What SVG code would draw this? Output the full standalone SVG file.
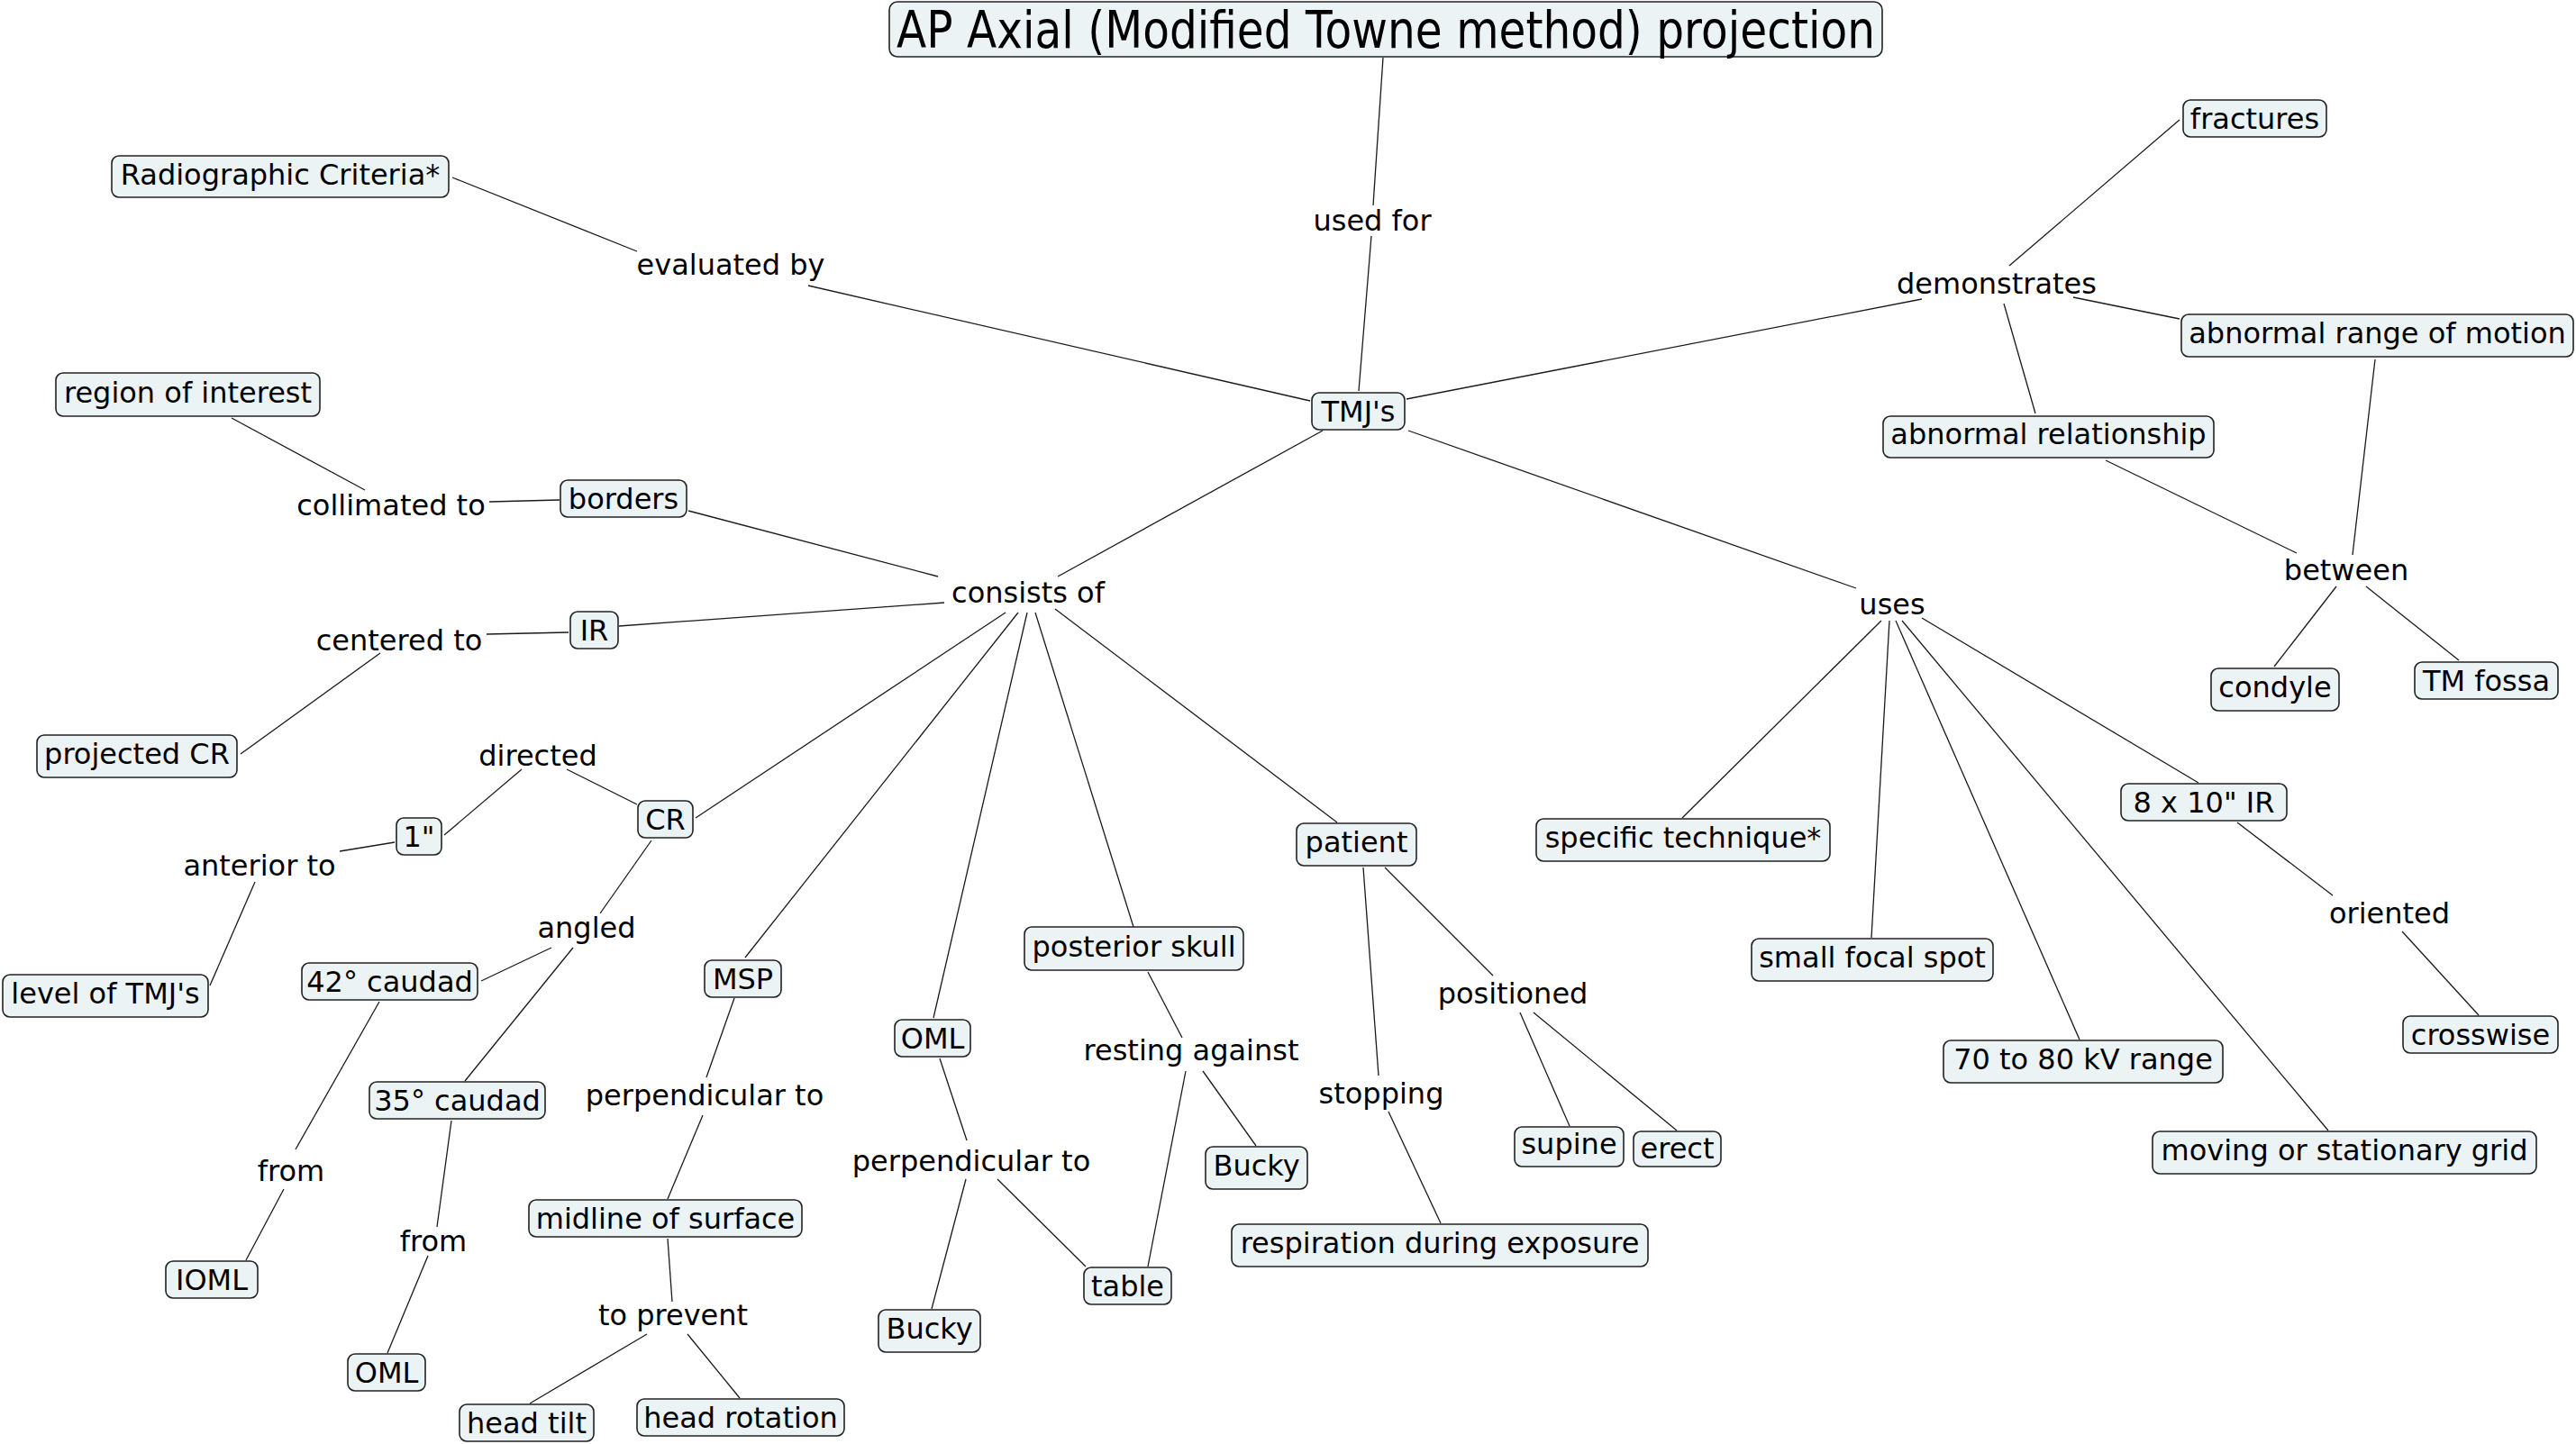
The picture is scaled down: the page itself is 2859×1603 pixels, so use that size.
<svg xmlns="http://www.w3.org/2000/svg" width="2859" height="1603" viewBox="0 0 2859 1603">
<style>
.n rect{fill:#ecf3f5;stroke:#222;stroke-width:1.6}
text{font-family:"DejaVu Sans","Liberation Sans",sans-serif;font-size:32px;fill:#000;text-anchor:middle}
.t text{font-size:57px}
#connectors line{stroke:#1a1a1a;stroke-width:1.3}
</style>
<rect width="2859" height="1603" fill="#fff"/>
<g id="connectors">
<line x1="1535" y1="64" x2="1524" y2="228"/>
<line x1="1522" y1="262" x2="1508" y2="434"/>
<line x1="1454" y1="445" x2="897" y2="317"/>
<line x1="707" y1="279" x2="502" y2="197"/>
<line x1="1561" y1="443" x2="2133" y2="332"/>
<line x1="2230" y1="295" x2="2419" y2="133"/>
<line x1="2301" y1="330" x2="2419" y2="354"/>
<line x1="2224" y1="337" x2="2259" y2="459"/>
<line x1="2636" y1="399" x2="2611" y2="616"/>
<line x1="2337" y1="511" x2="2549" y2="614"/>
<line x1="2593" y1="651" x2="2524" y2="740"/>
<line x1="2626" y1="651" x2="2729" y2="733"/>
<line x1="1563" y1="478" x2="2060" y2="653"/>
<line x1="2088" y1="689" x2="1867" y2="908"/>
<line x1="2097" y1="689" x2="2077" y2="1041"/>
<line x1="2104" y1="689" x2="2308" y2="1154"/>
<line x1="2111" y1="689" x2="2584" y2="1255"/>
<line x1="2133" y1="686" x2="2440" y2="869"/>
<line x1="2483" y1="913" x2="2589" y2="994"/>
<line x1="2666" y1="1034" x2="2751" y2="1127"/>
<line x1="1468" y1="478" x2="1174" y2="640"/>
<line x1="1041" y1="640" x2="764" y2="567"/>
<line x1="1048" y1="669" x2="687" y2="695"/>
<line x1="1116" y1="680" x2="772" y2="908"/>
<line x1="1130" y1="680" x2="827" y2="1063"/>
<line x1="1140" y1="680" x2="1036" y2="1130"/>
<line x1="1149" y1="680" x2="1258" y2="1029"/>
<line x1="1171" y1="676" x2="1484" y2="913"/>
<line x1="621" y1="555" x2="543" y2="557"/>
<line x1="405" y1="544" x2="257" y2="464"/>
<line x1="631" y1="702" x2="540" y2="704"/>
<line x1="422" y1="725" x2="267" y2="837"/>
<line x1="707" y1="893" x2="629" y2="854"/>
<line x1="579" y1="854" x2="493" y2="927"/>
<line x1="438" y1="935" x2="377" y2="945"/>
<line x1="283" y1="979" x2="233" y2="1094"/>
<line x1="723" y1="933" x2="666" y2="1014"/>
<line x1="612" y1="1052" x2="534" y2="1089"/>
<line x1="636" y1="1052" x2="516" y2="1200"/>
<line x1="421" y1="1112" x2="328" y2="1276"/>
<line x1="315" y1="1320" x2="273" y2="1399"/>
<line x1="501" y1="1244" x2="485" y2="1362"/>
<line x1="475" y1="1394" x2="430" y2="1502"/>
<line x1="815" y1="1108" x2="784" y2="1196"/>
<line x1="780" y1="1238" x2="741" y2="1331"/>
<line x1="741" y1="1375" x2="746" y2="1445"/>
<line x1="718" y1="1481" x2="588" y2="1558"/>
<line x1="763" y1="1481" x2="821" y2="1552"/>
<line x1="1043" y1="1175" x2="1073" y2="1266"/>
<line x1="1072" y1="1309" x2="1034" y2="1453"/>
<line x1="1107" y1="1309" x2="1205" y2="1406"/>
<line x1="1274" y1="1079" x2="1312" y2="1152"/>
<line x1="1335" y1="1189" x2="1394" y2="1272"/>
<line x1="1316" y1="1189" x2="1274" y2="1406"/>
<line x1="1513" y1="963" x2="1530" y2="1194"/>
<line x1="1541" y1="1234" x2="1599" y2="1358"/>
<line x1="1537" y1="963" x2="1657" y2="1083"/>
<line x1="1687" y1="1124" x2="1742" y2="1250"/>
<line x1="1702" y1="1124" x2="1861" y2="1255"/>
</g>
<g id="title" class="n t"><rect x="987" y="2" width="1102" height="61" rx="9"/><text x="1538" y="53" textLength="1086" lengthAdjust="spacingAndGlyphs">AP Axial (Modified Towne method) projection</text></g>
<g id="radiographic-criteria" class="n"><rect x="124" y="173" width="374" height="46" rx="8"/><text x="311" y="205">Radiographic Criteria*</text></g>
<g id="tmjs" class="n"><rect x="1456" y="436" width="103" height="41" rx="8"/><text x="1507.5" y="468">TMJ's</text></g>
<g id="fractures" class="n"><rect x="2423" y="111" width="159" height="41" rx="8"/><text x="2502.5" y="143">fractures</text></g>
<g id="abnormal-range" class="n"><rect x="2421" y="349" width="435" height="47" rx="8"/><text x="2638.5" y="381">abnormal range of motion</text></g>
<g id="abnormal-relationship" class="n"><rect x="2090" y="462" width="367" height="46" rx="8"/><text x="2273.5" y="493">abnormal relationship</text></g>
<g id="condyle" class="n"><rect x="2454" y="742" width="142" height="47" rx="8"/><text x="2525" y="774">condyle</text></g>
<g id="tm-fossa" class="n"><rect x="2680" y="735" width="159" height="41" rx="8"/><text x="2759.5" y="767">TM fossa</text></g>
<g id="region-of-interest" class="n"><rect x="62" y="414" width="293" height="48" rx="8"/><text x="208.5" y="447">region of interest</text></g>
<g id="borders" class="n"><rect x="622" y="533" width="140" height="41" rx="8"/><text x="692" y="565">borders</text></g>
<g id="ir" class="n"><rect x="633" y="679" width="53" height="41" rx="8"/><text x="659.5" y="711">IR</text></g>
<g id="projected-cr" class="n"><rect x="41" y="816" width="222" height="47" rx="8"/><text x="152" y="848">projected CR</text></g>
<g id="cr" class="n"><rect x="708" y="889" width="61" height="41" rx="8"/><text x="738.5" y="921">CR</text></g>
<g id="one-inch" class="n"><rect x="440" y="908" width="50" height="41" rx="8"/><text x="465" y="940">1"</text></g>
<g id="level-of-tmjs" class="n"><rect x="3" y="1082" width="228" height="47" rx="8"/><text x="117" y="1114">level of TMJ's</text></g>
<g id="caudad-42" class="n"><rect x="335" y="1069" width="195" height="41" rx="8"/><text x="432.5" y="1101">42° caudad</text></g>
<g id="caudad-35" class="n"><rect x="410" y="1201" width="195" height="41" rx="8"/><text x="507.5" y="1233">35° caudad</text></g>
<g id="msp" class="n"><rect x="782" y="1066" width="85" height="41" rx="8"/><text x="824.5" y="1098">MSP</text></g>
<g id="ioml" class="n"><rect x="184" y="1400" width="102" height="41" rx="8"/><text x="235" y="1432">IOML</text></g>
<g id="oml-left" class="n"><rect x="386" y="1503" width="86" height="41" rx="8"/><text x="429" y="1535">OML</text></g>
<g id="midline-of-surface" class="n"><rect x="587" y="1332" width="303" height="41" rx="8"/><text x="738.5" y="1364">midline of surface</text></g>
<g id="head-tilt" class="n"><rect x="510" y="1559" width="149" height="41" rx="8"/><text x="584.5" y="1591">head tilt</text></g>
<g id="head-rotation" class="n"><rect x="707" y="1553" width="230" height="41" rx="8"/><text x="822" y="1585">head rotation</text></g>
<g id="oml-mid" class="n"><rect x="993" y="1132" width="84" height="41" rx="8"/><text x="1035" y="1164">OML</text></g>
<g id="bucky-bottom" class="n"><rect x="975" y="1454" width="113" height="47" rx="8"/><text x="1031.5" y="1486">Bucky</text></g>
<g id="posterior-skull" class="n"><rect x="1137" y="1029" width="243" height="48" rx="8"/><text x="1258.5" y="1062">posterior skull</text></g>
<g id="bucky-right" class="n"><rect x="1338" y="1273" width="113" height="47" rx="8"/><text x="1394.5" y="1305">Bucky</text></g>
<g id="table" class="n"><rect x="1203" y="1407" width="97" height="41" rx="8"/><text x="1251.5" y="1439">table</text></g>
<g id="patient" class="n"><rect x="1439" y="914" width="133" height="47" rx="8"/><text x="1505.5" y="946">patient</text></g>
<g id="respiration" class="n"><rect x="1367" y="1359" width="462" height="47" rx="8"/><text x="1598" y="1391">respiration during exposure</text></g>
<g id="supine" class="n"><rect x="1681" y="1251" width="121" height="44" rx="8"/><text x="1741.5" y="1281">supine</text></g>
<g id="erect" class="n"><rect x="1813" y="1256" width="97" height="39" rx="8"/><text x="1861.5" y="1286">erect</text></g>
<g id="specific-technique" class="n"><rect x="1705" y="909" width="326" height="47" rx="8"/><text x="1868" y="941">specific technique*</text></g>
<g id="small-focal-spot" class="n"><rect x="1944" y="1042" width="268" height="47" rx="8"/><text x="2078" y="1074">small focal spot</text></g>
<g id="kv-range" class="n"><rect x="2157" y="1155" width="310" height="47" rx="8"/><text x="2312" y="1187">70 to 80 kV range</text></g>
<g id="grid" class="n"><rect x="2389" y="1256" width="426" height="47" rx="8"/><text x="2602" y="1288">moving or stationary grid</text></g>
<g id="ir-8x10" class="n"><rect x="2354" y="870" width="184" height="41" rx="8"/><text x="2446" y="902">8 x 10" IR</text></g>
<g id="crosswise" class="n"><rect x="2667" y="1128" width="172" height="41" rx="8"/><text x="2753" y="1160">crosswise</text></g>
<g id="lp-used-for"><text x="1523" y="256">used for</text></g>
<g id="lp-evaluated-by"><text x="811" y="305">evaluated by</text></g>
<g id="lp-demonstrates"><text x="2216" y="326">demonstrates</text></g>
<g id="lp-between"><text x="2604" y="644">between</text></g>
<g id="lp-uses"><text x="2100" y="682">uses</text></g>
<g id="lp-consists-of"><text x="1141" y="669">consists of</text></g>
<g id="lp-collimated-to"><text x="434" y="572">collimated to</text></g>
<g id="lp-centered-to"><text x="443" y="722">centered to</text></g>
<g id="lp-directed"><text x="597" y="850">directed</text></g>
<g id="lp-anterior-to"><text x="288" y="972">anterior to</text></g>
<g id="lp-angled"><text x="651" y="1041">angled</text></g>
<g id="lp-from-1"><text x="323" y="1311">from</text></g>
<g id="lp-from-2"><text x="481" y="1389">from</text></g>
<g id="lp-perpendicular-1"><text x="782" y="1227">perpendicular to</text></g>
<g id="lp-to-prevent"><text x="747" y="1471">to prevent</text></g>
<g id="lp-perpendicular-2"><text x="1078" y="1300">perpendicular to</text></g>
<g id="lp-resting-against"><text x="1322" y="1177">resting against</text></g>
<g id="lp-stopping"><text x="1533" y="1225">stopping</text></g>
<g id="lp-positioned"><text x="1679" y="1114">positioned</text></g>
<g id="lp-oriented"><text x="2652" y="1025">oriented</text></g>
</svg>
